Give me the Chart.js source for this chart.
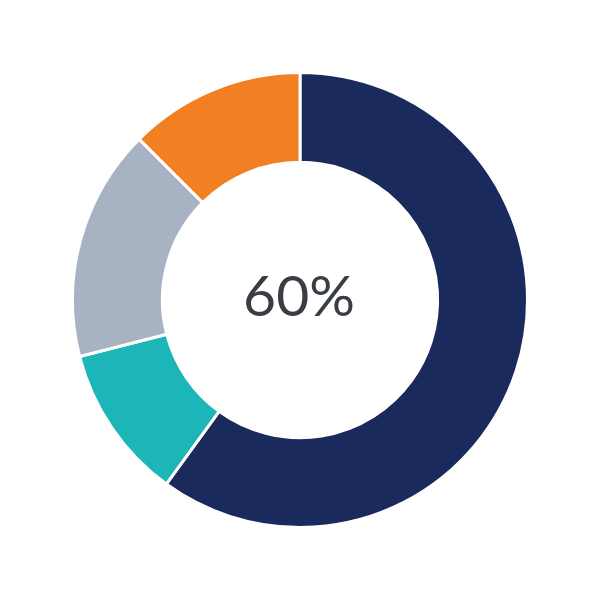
<!DOCTYPE html>
<html>
<head>
<meta charset="utf-8">
<script src="https://cdn.jsdelivr.net/npm/chart.js@4"></script>
<style>
  html, body { margin: 0; padding: 0; background: #fff; }
  #wrap { width: 600px; height: 600px; }
</style>
</head>
<body>
<div id="wrap"><canvas id="donut"></canvas></div>
<script>
const labels = ["A", "B", "C", "D"];
const values = [60, 11, 16.5, 12.5];
const colors = ["#1b2a5c", "#1cb5b8", "#a7b2c2", "#f27f21"];
const centerLabel = "60%";

// 中央のテキスト
const centerText = {
  id: "centerText",
  afterDraw(chart) {
    const { ctx } = chart;
    const meta = chart.getDatasetMeta(0);
    const arc = meta.data[0];
    if (!arc) return;
    ctx.save();
    ctx.font = "57px Lato";
    ctx.fillStyle = "#393e45";
    ctx.textAlign = "center";
    ctx.textBaseline = "middle";
    ctx.fillText(centerLabel, arc.x - 1, arc.y - 2);
    ctx.restore();
  }
};

new Chart(document.getElementById("donut").getContext("2d"), {
  type: "doughnut",
  data: {
    labels,
    datasets: [{
      data: values,
      backgroundColor: colors,
      borderColor: "#ffffff",
      borderWidth: 3,
      hoverOffset: 0
    }]
  },
  options: {
    responsive: true,
    maintainAspectRatio: false,
    animation: false,
    cutout: "60.5%",
    layout: { padding: 71 },
    plugins: { legend: { display: false }, tooltip: { enabled: false } }
  },
  plugins: [centerText]
});
</script>
</body>
</html>
